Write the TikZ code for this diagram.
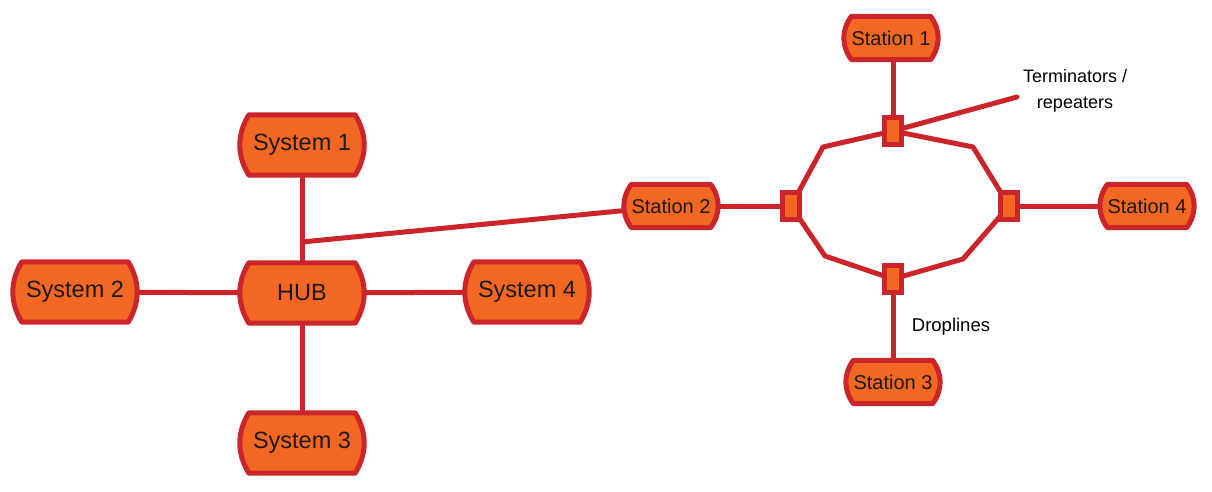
\documentclass[tikz,border=0pt]{standalone}
\usepackage{fontspec}
\setmainfont{Liberation Sans}
\usetikzlibrary{backgrounds}
\definecolor{fillor}{RGB}{242,103,34}
\definecolor{edgered}{RGB}{203,37,43}
\definecolor{txt}{RGB}{30,25,25}
\tikzset{
  sysbox/.style={rectangle, inner sep=0pt, minimum width=106pt, minimum height=60pt, text=txt, font=\fontsize{23.5}{26}\selectfont},
  stbox/.style={rectangle, inner sep=0pt, minimum width=76pt, minimum height=43pt, text=txt, font=\fontsize{20}{22}\selectfont},
  termbox/.style={rectangle, inner sep=0pt, minimum width=17pt, minimum height=27pt, draw=edgered, fill=fillor, line width=5pt},
  wire/.style={draw=edgered, line width=5pt},
  outline/.style={draw=edgered, fill=fillor, line width=5pt, line join=round},
  lbl/.style={text=black, font=\fontsize{18}{26}\selectfont, align=center}
}
\newcommand\barrel[3]{%
  \path[outline] (#1.north west) -- (#1.north east)
    .. controls +(#2pt,-#3pt) and +(#2pt,#3pt) .. (#1.south east)
    -- (#1.south west)
    .. controls +(-#2pt,#3pt) and +(-#2pt,-#3pt) .. (#1.north west) -- cycle;}
\begin{document}
\begin{tikzpicture}[x=1pt,y=-1pt]
\useasboundingbox (0,0) rectangle (1212,492);
% system nodes
\node[sysbox] (sys1) at (302,145) {System 1};
\node[sysbox] (hub)  at (302,293) {HUB};
\node[sysbox] (sys2) at (75,292) {System 2};
\node[sysbox] (sys4) at (527,292) {System 4};
\node[sysbox] (sys3) at (302,443) {System 3};
% stations
\node[stbox] (st1) at (891,38) {Station 1};
\node[stbox] (st2) at (671,206) {Station 2};
\node[stbox] (st4) at (1147,206) {Station 4};
\node[stbox] (st3) at (893,382) {Station 3};
% terminators
\node[termbox] (tt) at (893,131) {};
\node[termbox] (tl) at (791,206) {};
\node[termbox] (tr) at (1009,206) {};
\node[termbox] (tb) at (893,279) {};
% coordinates
\coordinate (j) at (302,242);
\coordinate (b1) at (823,147);
\coordinate (b2) at (973,147);
\coordinate (b3) at (825,256);
\coordinate (b4) at (963,259);
\coordinate (lead) at (1017,97);
% labels
\node[lbl] (termlbl) at (1075,91) {Terminators /\\repeaters};
\node[lbl, font=\fontsize{18.5}{22}\selectfont] (droplbl) at (951,327) {Droplines};
\begin{scope}[on background layer]
  \draw[wire] (sys1) -- (hub);
  \draw[wire] (hub) -- (sys3);
  \draw[wire] (hub) -- (sys2);
  \draw[wire] (hub) -- (sys4);
  \draw[wire] (j) -- (st2);
  \draw[wire] (st2) -- (tl);
  \draw[wire] (tr) -- (st4);
  \draw[wire] (tt) -- (tt |- st1);
  \draw[wire] (tb) -- (tb |- st3);
  \draw[wire, line join=round] (tt.center) -- (b1) -- (tl.center) -- (b3) -- (tb.center) -- (b4) -- (tr.center) -- (b2) -- cycle;
  \draw[wire, line cap=round] (tt.center) -- (lead);
  \barrel{sys1}{12}{20}
  \barrel{hub}{12}{20}
  \barrel{sys2}{12}{20}
  \barrel{sys4}{12}{20}
  \barrel{sys3}{12}{20}
  \barrel{st1}{10}{14}
  \barrel{st2}{10}{14}
  \barrel{st4}{10}{14}
  \barrel{st3}{10}{14}
\end{scope}
\end{tikzpicture}
\end{document}
